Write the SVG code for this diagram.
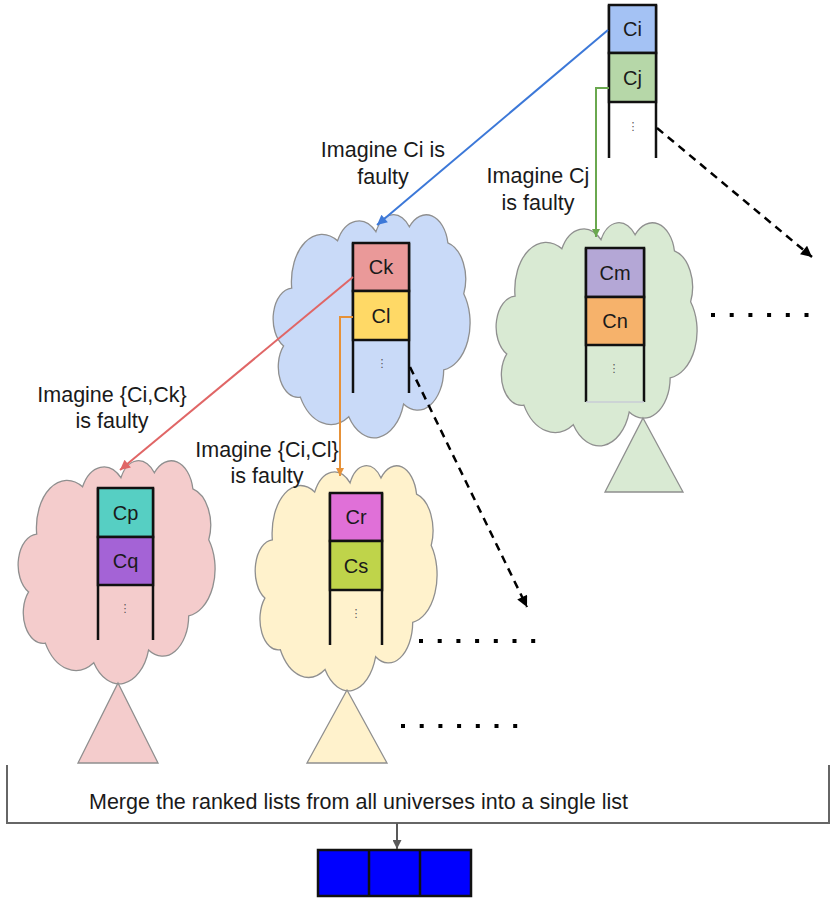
<svg xmlns="http://www.w3.org/2000/svg" width="834" height="905" viewBox="0 0 834 905">
<style>
.lbl{font-family:"Liberation Sans",Arial,sans-serif;font-size:21.5px;fill:#1a1a1a}
.box{font-family:"Liberation Sans",Arial,sans-serif;font-size:20px;fill:#1a1a1a;text-anchor:middle}
.dots{font-family:"DejaVu Sans",sans-serif;font-size:11px;fill:#555;text-anchor:middle}
.cloud{stroke:#8f8f8f;stroke-width:1.3}
.cell{stroke:#111;stroke-width:2.5}
.leg{stroke:#111;stroke-width:2.5;fill:none}
.tri{stroke:#8f8f8f;stroke-width:1.3}
.dash{stroke:#000;stroke-width:2.5;stroke-dasharray:8 6;fill:none}
.dotl{stroke:#000;stroke-width:4;stroke-dasharray:4 14.7;fill:none}
</style>
<defs>
<path id="cl" vector-effect="non-scaling-stroke" d="M9.03,33.26 A15.63,21.27 0 0 1 32.42,12.04 A12.34,16.82 0 0 1 51.98,7.95 A10.10,13.76 0 0 1 69.06,5.74 A11.24,15.27 0 0 1 88.70,12.91 A12.34,16.84 0 0 1 96.80,35.79 A15.68,21.34 0 0 1 86.58,69.91 A13.39,18.21 0 0 1 66.10,85.21 A15.63,21.33 0 0 1 38.15,90.89 A17.87,24.41 0 0 1 13.44,82.11 A10.09,13.70 0 0 1 4.90,59.15 A10.06,13.76 0 0 1 9.03,33.26 Z"/>
<marker id="aB" markerUnits="userSpaceOnUse" viewBox="0 0 10 10" refX="10" refY="5" markerWidth="13" markerHeight="10" orient="auto"><path d="M0,0 L10,5 L0,10 z" fill="#3c78d8"/></marker>
<marker id="aG" markerUnits="userSpaceOnUse" viewBox="0 0 10 10" refX="10" refY="5" markerWidth="11" markerHeight="8" orient="auto"><path d="M0,0 L10,5 L0,10 z" fill="#6aa84f"/></marker>
<marker id="aR" markerUnits="userSpaceOnUse" viewBox="0 0 10 10" refX="10" refY="5" markerWidth="13" markerHeight="10" orient="auto"><path d="M0,0 L10,5 L0,10 z" fill="#e06666"/></marker>
<marker id="aO" markerUnits="userSpaceOnUse" viewBox="0 0 10 10" refX="10" refY="5" markerWidth="11" markerHeight="8" orient="auto"><path d="M0,0 L10,5 L0,10 z" fill="#e69138"/></marker>
<marker id="aK" markerUnits="userSpaceOnUse" viewBox="0 0 10 10" refX="10" refY="5" markerWidth="14" markerHeight="11" orient="auto"><path d="M0,0 L10,5 L0,10 z" fill="#000"/></marker>
<marker id="aY" markerUnits="userSpaceOnUse" viewBox="0 0 10 10" refX="10" refY="5" markerWidth="12" markerHeight="9" orient="auto"><path d="M0,0 L10,5 L0,10 z" fill="#595959"/></marker>
</defs>

<g id="top-stack">
<line class="leg" x1="609" y1="5" x2="609" y2="158"/>
<line class="leg" x1="656" y1="5" x2="656" y2="158"/>
<rect class="cell" x="609" y="5" width="47" height="48" fill="#a4c2f4"/>
<rect class="cell" x="609" y="53" width="47" height="49" fill="#b6d7a8"/>
<text class="box" x="632.5" y="36">Ci</text>
<text class="box" x="632.5" y="85">Cj</text>
<text class="dots" x="633" y="130">⋮</text>
</g>

<g id="universe-blue">
<use href="#cl" class="cloud" fill="#c9daf8" transform="translate(274,214) scale(1.96,2.23)"/>
<line class="leg" x1="353" y1="243" x2="353" y2="393"/>
<line class="leg" x1="409" y1="243" x2="409" y2="393"/>
<rect class="cell" x="353" y="243" width="56" height="48" fill="#ea9999"/>
<rect class="cell" x="353" y="291" width="56" height="49" fill="#ffd966"/>
<text class="box" x="381" y="274">Ck</text>
<text class="box" x="381" y="323">Cl</text>
<text class="dots" x="382" y="367">⋮</text>
</g>

<g id="universe-green">
<use href="#cl" class="cloud" fill="#d9ead3" transform="translate(497,222) scale(2.0,2.23)"/>
<line class="leg" x1="586" y1="248" x2="586" y2="402"/>
<line class="leg" x1="644" y1="248" x2="644" y2="402"/>
<line x1="586" y1="402" x2="644" y2="402" stroke="#c8ccd6" stroke-width="1.5"/>
<rect class="cell" x="586" y="248" width="58" height="49" fill="#b4a7d6"/>
<rect class="cell" x="586" y="297" width="58" height="48" fill="#f6b26b"/>
<text class="box" x="615" y="280">Cm</text>
<text class="box" x="615" y="328">Cn</text>
<text class="dots" x="614" y="372">⋮</text>
<polygon class="tri" points="643,418 683,492 605,492" fill="#d9ead3"/>
</g>

<g id="universe-pink">
<use href="#cl" class="cloud" fill="#f4cccc" transform="translate(19,460) scale(1.96,2.23)"/>
<line class="leg" x1="98" y1="488" x2="98" y2="640"/>
<line class="leg" x1="153" y1="488" x2="153" y2="640"/>
<rect class="cell" x="98" y="488" width="55" height="49" fill="#56cfc3"/>
<rect class="cell" x="98" y="537" width="55" height="48" fill="#a463d6"/>
<text class="box" x="125.5" y="520">Cp</text>
<text class="box" x="125.5" y="568">Cq</text>
<text class="dots" x="125" y="612">⋮</text>
<polygon class="tri" points="118,683 158,763 78,763" fill="#f4cccc"/>
</g>

<g id="universe-yellow">
<use href="#cl" class="cloud" fill="#fff2cc" transform="translate(256,465) scale(1.81,2.25)"/>
<line class="leg" x1="330" y1="493" x2="330" y2="645"/>
<line class="leg" x1="382" y1="493" x2="382" y2="645"/>
<rect class="cell" x="330" y="493" width="52" height="48" fill="#e070d8"/>
<rect class="cell" x="330" y="541" width="52" height="49" fill="#bfd44a"/>
<text class="box" x="356" y="524">Cr</text>
<text class="box" x="356" y="573">Cs</text>
<text class="dots" x="356" y="617">⋮</text>
<polygon class="tri" points="347,690 387,763 307,763" fill="#fff2cc"/>
</g>

<g id="merged-list">
<rect x="318" y="850" width="153" height="46" fill="#0000ff" stroke="#111" stroke-width="2.5"/>
<line x1="369" y1="850" x2="369" y2="896" stroke="#111" stroke-width="2.5"/>
<line x1="420" y1="850" x2="420" y2="896" stroke="#111" stroke-width="2.5"/>
</g>

<g id="connectors">
<line x1="608" y1="30" x2="377" y2="225" stroke="#3c78d8" stroke-width="2" marker-end="url(#aB)"/>
<polyline points="609,88 596,88 596,237" fill="none" stroke="#6aa84f" stroke-width="2" marker-end="url(#aG)"/>
<line x1="353" y1="277" x2="120" y2="470" stroke="#e06666" stroke-width="2" marker-end="url(#aR)"/>
<polyline points="353,317 340,317 340,476" fill="none" stroke="#e69138" stroke-width="2" marker-end="url(#aO)"/>
<line class="dash" x1="657" y1="128" x2="812" y2="257" marker-end="url(#aK)"/>
<line class="dash" x1="410" y1="367" x2="527" y2="607" marker-end="url(#aK)"/>
<line class="dotl" x1="711" y1="315" x2="812" y2="315"/>
<line class="dotl" x1="419" y1="641" x2="538" y2="641"/>
<line class="dotl" x1="401" y1="726" x2="520" y2="726"/>
<polyline points="7,765 7,823 829,823 829,765" fill="none" stroke="#666" stroke-width="2"/>
<line x1="397" y1="823" x2="397" y2="849" stroke="#595959" stroke-width="2" marker-end="url(#aY)"/>
</g>

<g id="labels">
<text class="lbl" text-anchor="middle" x="383" y="157">Imagine Ci is</text>
<text class="lbl" text-anchor="middle" x="383" y="184">faulty</text>
<text class="lbl" text-anchor="middle" x="538" y="183">Imagine Cj</text>
<text class="lbl" text-anchor="middle" x="538" y="210">is faulty</text>
<text class="lbl" text-anchor="middle" x="112" y="402">Imagine {Ci,Ck}</text>
<text class="lbl" text-anchor="middle" x="112" y="428">is faulty</text>
<text class="lbl" text-anchor="middle" x="267" y="457">Imagine {Ci,Cl}</text>
<text class="lbl" text-anchor="middle" x="267" y="483">is faulty</text>
<text class="lbl" x="89" y="809">Merge the ranked lists from all universes into a single list</text>
</g>
</svg>
